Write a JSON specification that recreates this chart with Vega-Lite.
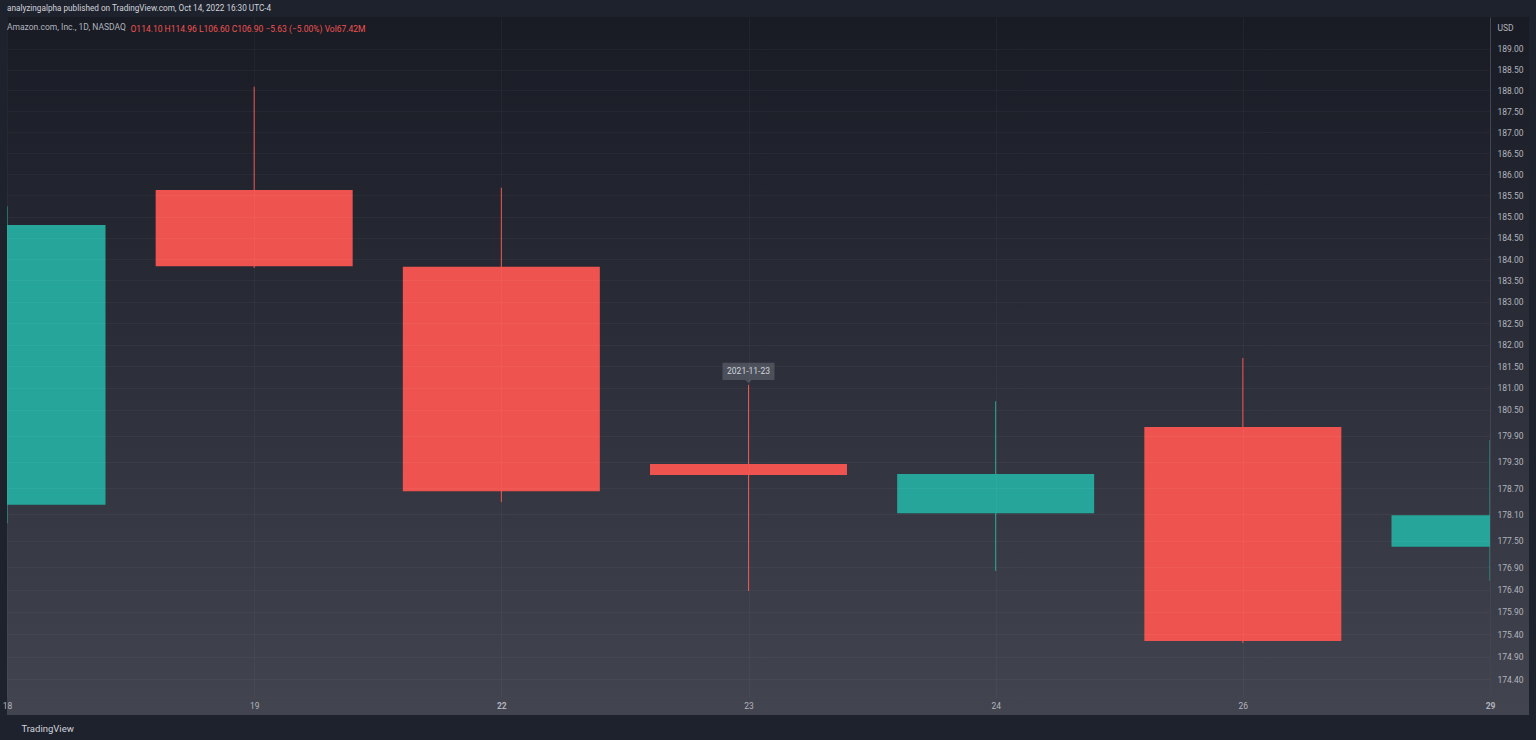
{
  "$schema": "https://vega.github.io/schema/vega-lite/v6.json",
  "width": 1483,
  "height": 680,
  "autosize": {"type": "none"},
  "padding": {"left": 7, "top": 17, "right": 46, "bottom": 43},
  "background": "#1e222d",
  "config": {"view": {"stroke": null}, "font": "Roboto"},
  "title": {
    "text": "analyzingalpha published on TradingView.com, Oct 14, 2022 16:30 UTC-4",
    "subtitle": "Amazon.com, Inc., 1D, NASDAQ",
    "anchor": "start",
    "frame": "group",
    "offset": -15,
    "font": "Roboto",
    "fontSize": 8.2,
    "fontWeight": "normal",
    "color": "#d1d4dc",
    "subtitleFont": "Roboto",
    "subtitleFontSize": 8.5,
    "subtitleColor": "#b2b5be",
    "subtitlePadding": 9
  },
  "data": {
    "values": [
      {"t": 0, "date": "2021-11-18", "open": 178.32, "high": 185.24, "low": 177.9, "close": 184.8},
      {"t": 1, "date": "2021-11-19", "open": 185.63, "high": 188.09, "low": 183.79, "close": 183.83},
      {"t": 2, "date": "2021-11-22", "open": 183.82, "high": 185.68, "low": 178.38, "close": 178.63},
      {"t": 3, "date": "2021-11-23", "open": 179.25, "high": 181.07, "low": 176.37, "close": 179.0},
      {"t": 4, "date": "2021-11-24", "open": 178.13, "high": 180.69, "low": 176.82, "close": 179.02},
      {"t": 5, "date": "2021-11-26", "open": 180.1, "high": 181.69, "low": 175.2, "close": 175.25},
      {"t": 6, "date": "2021-11-29", "open": 177.37, "high": 179.8, "low": 176.6, "close": 178.08}
    ]
  },
  "resolve": {"axis": {"x": "independent"}},
  "layer": [
    {
      "data": {"values": [{}]},
      "mark": {
        "type": "rect",
        "clip": false,
        "fill": {
          "gradient": "linear",
          "x1": 0, "y1": 0, "x2": 0, "y2": 1,
          "stops": [
            {"offset": 0, "color": "#181b24"},
            {"offset": 0.5, "color": "#2c2f39"},
            {"offset": 1, "color": "#42444f"}
          ]
        }
      },
      "encoding": {
        "x": {"value": 0},
        "x2": {"value": 1522},
        "y": {"value": 0},
        "y2": {"value": 698}
      }
    },
    {
      "mark": {"type": "rule", "strokeWidth": 1, "clip": true},
      "encoding": {
        "x": {
          "field": "t", "type": "quantitative",
          "scale": {"domain": [0, 6], "nice": false, "zero": false, "padding": 0},
          "axis": {
            "orient": "bottom", "labels": false, "ticks": false, "domain": false, "grid": false,
            "title": "TradingView", "titleX": 14, "titleY": 31, "titleAlign": "left", "titleBaseline": "middle",
            "titleColor": "#d1d4dc", "titleFont": "Roboto", "titleFontSize": 9.5, "titleFontWeight": "normal", "zindex": 1
          }
        },
        "y": {
          "field": "low", "type": "quantitative",
          "scale": {"type": "log", "domain": [174.0, 189.77], "nice": false, "zero": false},
          "axis": {
            "orient": "right",
            "values": [174.4, 174.9, 175.4, 175.9, 176.4, 176.9, 177.5, 178.1, 178.7, 179.3, 179.9, 180.5, 181, 181.5, 182, 182.5, 183, 183.5, 184, 184.5, 185, 185.5, 186, 186.5, 187, 187.5, 188, 188.5, 189],
            "format": ".2f",
            "title": "USD", "titleAngle": 0, "titleX": 7, "titleY": 10, "titleAlign": "left", "titleBaseline": "middle",
            "titleColor": "#b2b5be", "titleFont": "Roboto", "titleFontSize": 8.5, "titleFontWeight": "normal",
            "labelColor": "#b2b5be", "labelFont": "Roboto", "labelFontSize": 8.5, "labelPadding": 7,
            "labelOverlap": false, "labelFlush": false,
            "ticks": false, "domain": true, "domainColor": "#434651", "domainWidth": 1,
            "grid": true, "gridColor": "#ffffff", "gridOpacity": 0.035, "zindex": 1
          }
        },
        "y2": {"field": "high"},
        "color": {"condition": {"test": "datum.close >= datum.open", "value": "#26a69a"}, "value": "#ef5350"}
      }
    },
    {
      "mark": {"type": "bar", "size": 197, "clip": true},
      "encoding": {
        "x": {
          "field": "t", "type": "quantitative",
          "scale": {"domain": [0, 6], "nice": false, "zero": false, "padding": 0},
          "axis": {
            "orient": "bottom",
            "values": [0, 1, 2, 3, 4, 5, 6],
            "labelExpr": "['18','19','22','23','24','26','29'][datum.value]",
            "labelFontWeight": {"condition": {"test": "datum.value == 2 || datum.value == 6", "value": "bold"}, "value": "normal"},
            "labelColor": "#b2b5be", "labelFont": "Roboto", "labelFontSize": 8.5, "labelPadding": 4.5,
            "labelOverlap": false, "labelFlush": false,
            "ticks": false, "domain": true, "domainColor": "#434651", "domainWidth": 1,
            "grid": true, "gridColor": "#ffffff", "gridOpacity": 0.035,
            "title": "O114.10  H114.96  L106.60  C106.90  −5.63 (−5.00%)  Vol67.42M",
            "titleX": 123, "titleY": -669, "titleAlign": "left", "titleBaseline": "middle",
            "titleColor": "#ef5350", "titleFont": "Roboto", "titleFontSize": 8.5, "titleFontWeight": "normal",
            "zindex": 1
          }
        },
        "y": {
          "field": "open", "type": "quantitative",
          "scale": {"type": "log", "domain": [174.0, 189.77], "nice": false, "zero": false},
          "axis": {
            "orient": "right",
            "values": [174.4, 174.9, 175.4, 175.9, 176.4, 176.9, 177.5, 178.1, 178.7, 179.3, 179.9, 180.5, 181, 181.5, 182, 182.5, 183, 183.5, 184, 184.5, 185, 185.5, 186, 186.5, 187, 187.5, 188, 188.5, 189],
            "format": ".2f",
            "title": "USD", "titleAngle": 0, "titleX": 7, "titleY": 10, "titleAlign": "left", "titleBaseline": "middle",
            "titleColor": "#b2b5be", "titleFont": "Roboto", "titleFontSize": 8.5, "titleFontWeight": "normal",
            "labelColor": "#b2b5be", "labelFont": "Roboto", "labelFontSize": 8.5, "labelPadding": 7,
            "labelOverlap": false, "labelFlush": false,
            "ticks": false, "domain": true, "domainColor": "#434651", "domainWidth": 1,
            "grid": true, "gridColor": "#ffffff", "gridOpacity": 0.035, "zindex": 1
          }
        },
        "y2": {"field": "close"},
        "color": {"condition": {"test": "datum.close >= datum.open", "value": "#26a69a"}, "value": "#ef5350"}
      }
    },
    {
      "transform": [{"filter": "datum.date === '2021-11-23'"}],
      "mark": {
        "type": "point",
        "filled": true,
        "opacity": 1,
        "shape": "M-1,-0.85 L1,-0.85 L1,-0.19 L0.12,-0.19 L0,-0.06 L-0.12,-0.19 L-1,-0.19 Z",
        "size": 2704,
        "color": "#4c505b"
      },
      "encoding": {
        "x": {"field": "t", "type": "quantitative", "axis": null},
        "y": {
          "field": "high", "type": "quantitative",
          "axis": {
            "orient": "right",
            "values": [174.4, 174.9, 175.4, 175.9, 176.4, 176.9, 177.5, 178.1, 178.7, 179.3, 179.9, 180.5, 181, 181.5, 182, 182.5, 183, 183.5, 184, 184.5, 185, 185.5, 186, 186.5, 187, 187.5, 188, 188.5, 189],
            "format": ".2f",
            "title": "USD", "titleAngle": 0, "titleX": 7, "titleY": 10, "titleAlign": "left", "titleBaseline": "middle",
            "titleColor": "#b2b5be", "titleFont": "Roboto", "titleFontSize": 8.5, "titleFontWeight": "normal",
            "labelColor": "#b2b5be", "labelFont": "Roboto", "labelFontSize": 8.5, "labelPadding": 7,
            "labelOverlap": false, "labelFlush": false,
            "ticks": false, "domain": true, "domainColor": "#434651", "domainWidth": 1,
            "grid": true, "gridColor": "#ffffff", "gridOpacity": 0.035, "zindex": 1
          }
        }
      }
    },
    {
      "transform": [{"filter": "datum.date === '2021-11-23'"}],
      "mark": {"type": "text", "dy": -13.5, "color": "#d1d4dc", "font": "Roboto", "fontSize": 8.5, "baseline": "middle"},
      "encoding": {
        "x": {"field": "t", "type": "quantitative", "axis": null},
        "y": {
          "field": "high", "type": "quantitative",
          "axis": {
            "orient": "right",
            "values": [174.4, 174.9, 175.4, 175.9, 176.4, 176.9, 177.5, 178.1, 178.7, 179.3, 179.9, 180.5, 181, 181.5, 182, 182.5, 183, 183.5, 184, 184.5, 185, 185.5, 186, 186.5, 187, 187.5, 188, 188.5, 189],
            "format": ".2f",
            "title": "USD", "titleAngle": 0, "titleX": 7, "titleY": 10, "titleAlign": "left", "titleBaseline": "middle",
            "titleColor": "#b2b5be", "titleFont": "Roboto", "titleFontSize": 8.5, "titleFontWeight": "normal",
            "labelColor": "#b2b5be", "labelFont": "Roboto", "labelFontSize": 8.5, "labelPadding": 7,
            "labelOverlap": false, "labelFlush": false,
            "ticks": false, "domain": true, "domainColor": "#434651", "domainWidth": 1,
            "grid": true, "gridColor": "#ffffff", "gridOpacity": 0.035, "zindex": 1
          }
        },
        "text": {"field": "date"}
      }
    }
  ]
}
